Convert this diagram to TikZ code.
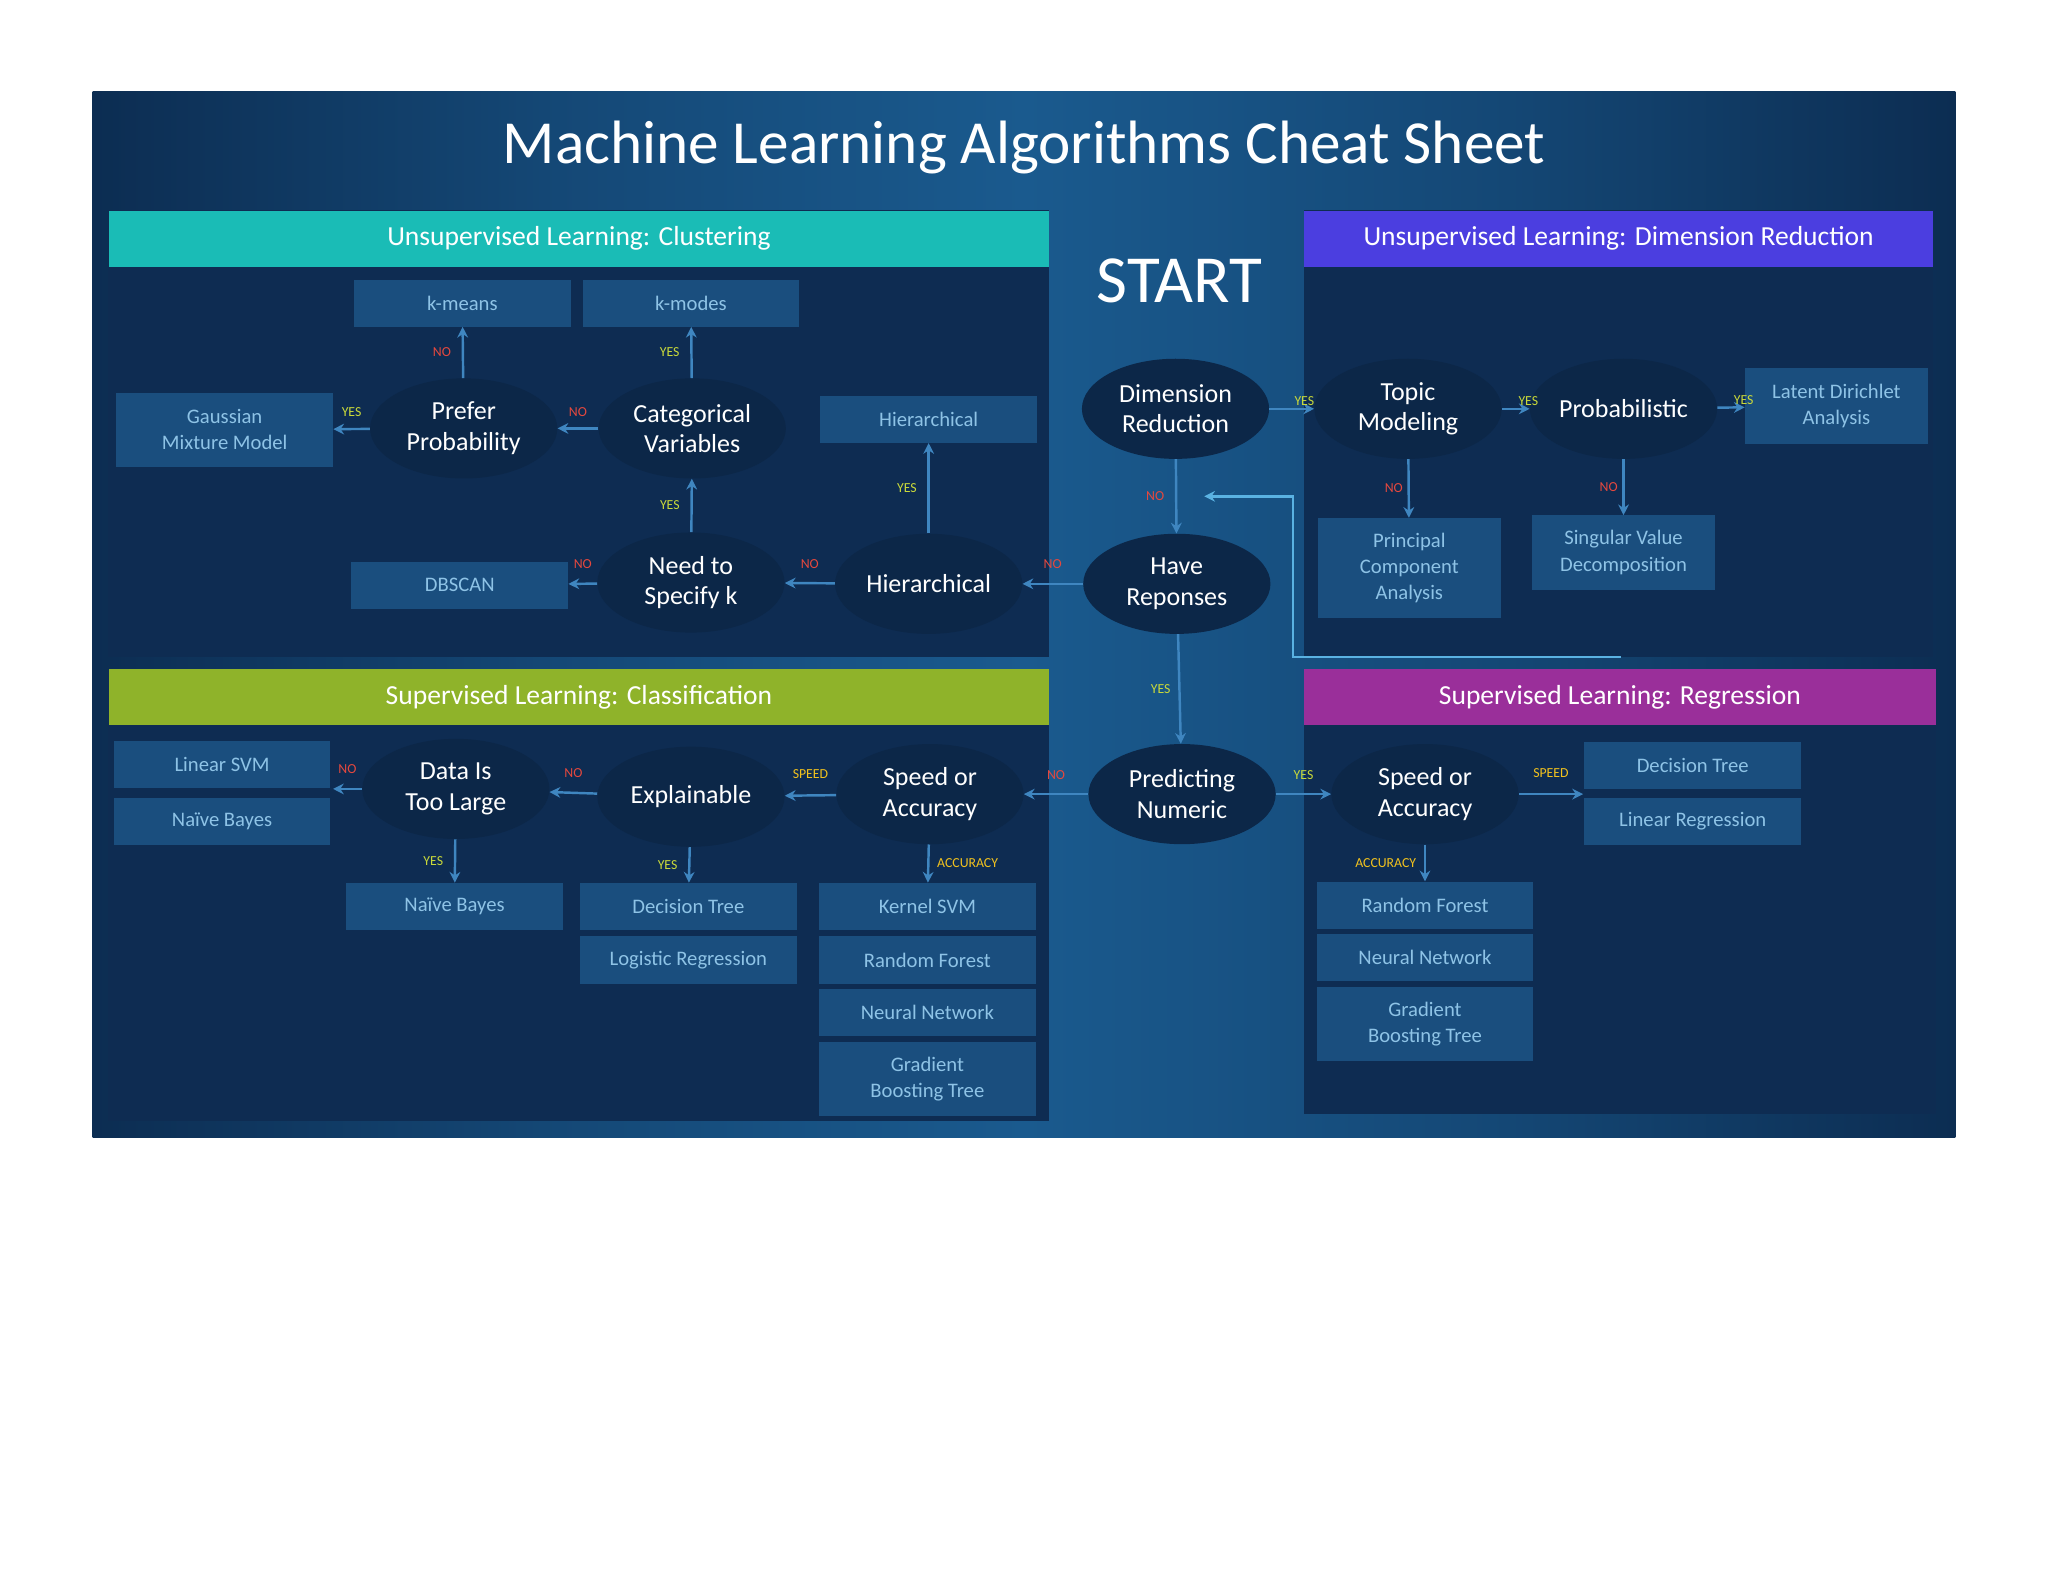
\documentclass[tikz,border=0pt]{standalone}
\usepackage{fontspec}
\setmainfont{Carlito}
\usetikzlibrary{shapes.geometric,arrows.meta}
\definecolor{bgc}{HTML}{0C2D52}
\definecolor{bgm}{HTML}{1A5A8E}
\definecolor{panel}{HTML}{0E2C52}
\definecolor{ell}{HTML}{0C2748}
\definecolor{boxc}{HTML}{1A4E7E}
\definecolor{boxt}{HTML}{8EC3E6}
\definecolor{lnc}{HTML}{3F86C0}
\definecolor{backc}{HTML}{5AB2E2}
\definecolor{yesc}{HTML}{C9D93A}
\definecolor{noc}{HTML}{E5483E}
\definecolor{spc}{HTML}{F2C21E}
\definecolor{hteal}{HTML}{1ABCB6}
\definecolor{hblue}{HTML}{4B3EE0}
\definecolor{hgreen}{HTML}{8FB32A}
\definecolor{hmag}{HTML}{9A2F9A}
\begin{document}
\begin{tikzpicture}[x=0.03cm,y=-0.03cm,
 el/.style={ellipse,fill=ell,text=white,minimum width=4.3cm,minimum height=2.3cm,inner sep=0pt,align=center,font=\fontsize{17}{20}\selectfont},
 bx/.style={rectangle,fill=boxc,text=boxt,minimum width=4.98cm,minimum height=1.08cm,inner sep=0pt,align=center,font=\fontsize{13.5}{17}\selectfont},
 hd/.style={rectangle,text=white,inner sep=0pt,anchor=north west,minimum height=1.29cm,font=\fontsize{18}{20}\selectfont},
 ar/.style={draw=lnc,line width=1.6pt,-{Stealth[length=7pt,width=7pt]}},
 lb/.style={font=\fontsize{9}{10}\selectfont,inner sep=1pt},
 yes/.style={lb,text=yesc}, no/.style={lb,text=noc}, sp/.style={lb,text=spc}]
\useasboundingbox (0,0) rectangle (1568,1211);
\fill[white] (0,0) rectangle (1568,1211);
\shade[left color=bgc,right color=bgm,middle color=bgm!60!bgc] (71,70) rectangle (784,871);
\shade[left color=bgm,right color=bgc,middle color=bgm!60!bgc] (784,70) rectangle (1497,871);
% panels
\fill[panel] (83,161) rectangle (803,503);
\fill[panel] (998,161) rectangle (1480,503);
\fill[panel] (83,512) rectangle (803,858);
\fill[panel] (998,512) rectangle (1482,853);
\node[hd,fill=hteal,minimum width=21.6cm] (h1) at (83,161) {Unsupervised Learning: Clustering};
\node[hd,fill=hblue,minimum width=14.46cm] (h2) at (998,161) {Unsupervised Learning: Dimension Reduction};
\node[hd,fill=hgreen,minimum width=21.6cm] (h3) at (83,512) {Supervised Learning: Classification};
\node[hd,fill=hmag,minimum width=14.52cm] (h4) at (998,512) {Supervised Learning: Regression};
\node[text=white,font=\fontsize{40}{42}\selectfont] (title) at (784,113) {Machine Learning Algorithms Cheat Sheet};
\node[text=white,font=\fontsize{44}{46}\selectfont] (start) at (903,215) {START};
% ellipses
\node[el] (dimred) at (900,313) {Dimension\\Reduction};
\node[el] (topic) at (1078,313) {Topic\\Modeling};
\node[el] (prob) at (1243,313) {Probabilistic};
\node[el] (haveresp) at (901,447) {Have\\Reponses};
\node[el] (prednum) at (905,608) {Predicting\\Numeric};
\node[el] (prefer) at (355,328) {Prefer\\Probability};
\node[el] (categ) at (530,328) {Categorical\\Variables};
\node[el] (needk) at (529,446) {Need to\\Specify k};
\node[el] (hier) at (711,447) {Hierarchical};
\node[el] (datalarge) at (349,604) {Data Is\\Too Large};
\node[el] (explain) at (529,610) {Explainable};
\node[el] (speedC) at (712,608) {Speed or\\Accuracy};
\node[el] (speedR) at (1091,608) {Speed or\\Accuracy};
% boxes
\node[bx] (kmeans) at (354,232) {k-means};
\node[bx] (kmodes) at (529,232) {k-modes};
\node[bx,minimum height=1.7cm] (gmm) at (172,329) {Gaussian\\Mixture Model};
\node[bx] (hierbox) at (711,321) {Hierarchical};
\node[bx] (dbscan) at (352,448) {DBSCAN};
\node[bx,minimum width=4.2cm,minimum height=1.74cm] (lda) at (1406,311) {Latent Dirichlet\\Analysis};
\node[bx,minimum width=4.2cm,minimum height=2.3cm] (pca) at (1079,435) {Principal\\Component\\Analysis};
\node[bx,minimum width=4.2cm,minimum height=1.7cm] (svd) at (1243,423) {Singular Value\\Decomposition};
\node[bx] (linsvm) at (170,585) {Linear SVM};
\node[bx] (nb1) at (170,629) {Naïve Bayes};
\node[bx] (nb2) at (348,694) {Naïve Bayes};
\node[bx] (dt1) at (527,694) {Decision Tree};
\node[bx] (lr) at (527,735) {Logistic Regression};
\node[bx] (ksvm) at (710,694) {Kernel SVM};
\node[bx] (rf1) at (710,735) {Random Forest};
\node[bx] (nn1) at (710,775) {Neural Network};
\node[bx,minimum height=1.7cm] (gbt1) at (710,826) {Gradient\\Boosting Tree};
\node[bx] (dt2) at (1296,586) {Decision Tree};
\node[bx] (linreg) at (1296,629) {Linear Regression};
\node[bx] (rf2) at (1091,693) {Random Forest};
\node[bx] (nn2) at (1091,733) {Neural Network};
\node[bx,minimum height=1.7cm] (gbt2) at (1091,784) {Gradient\\Boosting Tree};
% coordinates
\coordinate (c1) at (255,604);
\coordinate (c2) at (1212,608);
\coordinate (c3) at (1241,503);
\coordinate (c4) at (990,503);
\coordinate (c5) at (990,380);
\coordinate (c6) at (922,380);
% arrows
\draw[ar] (dimred) -- (topic) node[yes,pos=0.5,above right] {YES};
\draw[ar] (topic) -- (prob) node[yes,pos=0.5,above right] {YES};
\draw[ar] (prob) -- (lda) node[yes,pos=0.5,above right] {YES};
\draw[ar] (topic) -- (pca) node[no,midway,left=2pt] {NO};
\draw[ar] (prob) -- (svd) node[no,midway,left=2pt] {NO};
\draw[ar] (dimred) -- (haveresp) node[no,midway,left=6pt] {NO};
\draw[draw=backc,line width=1.6pt,-{Stealth[length=7pt,width=7pt]}] (c3) -- (c4) -- (c5) -- (c6);
\draw[ar] (haveresp) -- (hier) node[no,midway,above=8pt] {NO};
\draw[ar] (haveresp) -- (prednum) node[yes,midway,left=4pt] {YES};
\draw[ar] (prednum) -- (speedC) node[no,midway,above=8pt] {NO};
\draw[ar] (prednum) -- (speedR) node[yes,midway,above=8pt] {YES};
\draw[ar] (hier) -- (needk) node[no,midway,above=8pt] {NO};
\draw[ar] (hier) -- (hierbox) node[yes,midway,left=6pt] {YES};
\draw[ar] (needk) -- (categ) node[yes,midway,left=6pt] {YES};
\draw[ar] (needk) -- (dbscan) node[no,midway,above=8pt] {NO};
\draw[ar] (categ) -- (kmodes) node[yes,midway,left=6pt] {YES};
\draw[ar] (categ) -- (prefer) node[no,midway,above=6pt] {NO};
\draw[ar] (prefer) -- (kmeans) node[no,midway,left=6pt] {NO};
\draw[ar] (prefer) -- (gmm) node[yes,midway,above=6pt] {YES};
\draw[ar] (speedC) -- (explain) node[sp,midway,above=9pt] {SPEED};
\draw[ar] (speedC) -- (ksvm) node[sp,midway,right=4pt] {ACCURACY};
\draw[ar] (explain) -- (datalarge) node[no,midway,above=8pt] {NO};
\draw[ar] (explain) -- (dt1) node[yes,midway,left=6pt] {YES};
\draw[ar] (datalarge) -- (c1) node[no,midway,above=8pt] {NO};
\draw[ar] (datalarge) -- (nb2) node[yes,midway,left=6pt] {YES};
\draw[ar] (speedR) -- (c2) node[sp,midway,above=9pt] {SPEED};
\draw[ar] (speedR) -- (rf2) node[sp,midway,left=4pt] {ACCURACY};
\end{tikzpicture}
\end{document}
